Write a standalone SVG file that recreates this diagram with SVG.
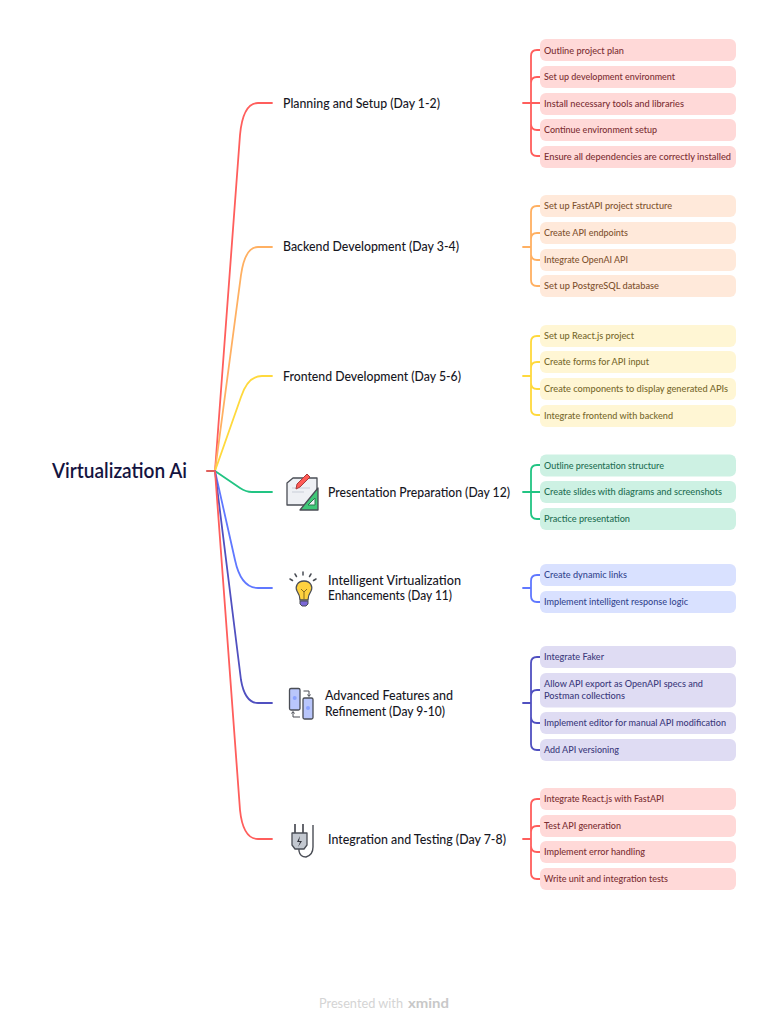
<svg xmlns="http://www.w3.org/2000/svg" width="768" height="1024" viewBox="0 0 768 1024">
<style>
text{font-family:"Lato","Liberation Sans",sans-serif}
.t{font-size:10px;font-weight:500}
.b{font-size:12.5px;fill:#17171f;font-weight:500}
.c{fill:none;stroke-width:1.8;stroke-linecap:round;stroke-linejoin:round}
.r{stroke:#ff5e5c}.o{stroke:#ffb062}.y{stroke:#ffd93d}.g{stroke:#22c483}.bl{stroke:#6078ff}.p{stroke:#5050c0}
.rb{fill:#ffd9d8}.ob{fill:#ffe9da}.yb{fill:#fff6d4}.gb{fill:#cdf1e3}.blb{fill:#d9e1ff}.pb{fill:#dfdcf3}
.rt{fill:#7c2f33}.ot{fill:#80522f}.yt{fill:#78692c}.gt{fill:#1f6f53}.blt{fill:#34468f}.pt{fill:#3c3a7c}
.i{stroke:#4a4d55;stroke-width:1.3;stroke-linejoin:round;stroke-linecap:round}
</style>
<g id="connectors">
<path class="c" style="stroke:#e0605c;stroke-width:2.200" d="M207 471H215"/>
<path class="c r" d="M215 471L240 135Q243 103 258 103H272"/>
<path class="c o" d="M215 471L241 275Q245 247 258 247H272"/>
<path class="c y" d="M215 471L241 397Q248 376 262 376H272"/>
<path class="c g" d="M215 471L240 488Q246 492 252 492H272"/>
<path class="c bl" d="M215 471L235 560Q241 588 258 588H272"/>
<path class="c p" d="M215 471L241 680Q245 703 258 703H272"/>
<path class="c r" d="M215 471L240 810Q243 839 258 839H272"/>
<path class="c r" d="M523 103H540M540 50H537Q531 50 531 56V150Q531 156 537 156H540M540 77H537Q531 77 531 83M540 130H537Q531 130 531 124"/>
<path class="c o" d="M523 247H531M540 206H537Q531 206 531 212V280Q531 286 537 286H540M540 233H537Q531 233 531 239M540 260H537Q531 260 531 254"/>
<path class="c y" d="M523 376H531M540 336H537Q531 336 531 342V409Q531 415 537 415H540M540 362H537Q531 362 531 368M540 389H537Q531 389 531 383"/>
<path class="c g" d="M523 492H540M540 465H537Q531 465 531 471V513Q531 519 537 519H540"/>
<path class="c bl" d="M523 588H531M540 575H537Q531 575 531 581V596Q531 602 537 602H540"/>
<path class="c p" d="M523 703H531M540 657H537Q531 657 531 663V744Q531 750 537 750H540M540 690H537Q531 690 531 696M540 723H537Q531 723 531 717"/>
<path class="c r" d="M523 839H531M540 799H537Q531 799 531 805V873Q531 879 537 879H540M540 826H537Q531 826 531 832M540 852H537Q531 852 531 846"/>
</g>
<g id="root"><text x="52" y="478" font-size="20.500" font-weight="600" fill="#14143f" textLength="135" lengthAdjust="spacingAndGlyphs">Virtualization Ai</text></g>

<g id="planning"><text class="b" x="283" y="108" textLength="157" lengthAdjust="spacingAndGlyphs">Planning and Setup (Day 1-2)</text></g>
<g id="backend"><text class="b" x="283" y="251" textLength="176" lengthAdjust="spacingAndGlyphs">Backend Development (Day 3-4)</text></g>
<g id="frontend"><text class="b" x="283" y="381" textLength="178" lengthAdjust="spacingAndGlyphs">Frontend Development (Day 5-6)</text></g>
<g id="presentation">
<path d="M287 483L293 478H317V505H287Z" fill="#eef0f4" class="i"/>
<path d="M292 488H310M292 492H304" stroke="#c9ced8" stroke-width="1" fill="none"/>
<path d="M318 488V510H300Z" fill="#3fc878" class="i"/>
<path d="M315 498V505H308Z" fill="#eef0f4" stroke="#2c7a50" stroke-width="1"/>
<path d="M297 484L307 474L310 477L300 487L296 489Z" fill="#ff5a55" stroke="#a83a3a" stroke-width="1"/>
<text class="b" x="328" y="497" textLength="182" lengthAdjust="spacingAndGlyphs">Presentation Preparation (Day 12)</text>
</g>
<g id="enhancements">
<path d="M304 581C297 581 295 587 297 591C299 594 300 597 300 600H308C308 597 309 594 311 591C313 587 311 581 304 581Z" fill="#ffd23f" stroke="#4a4d55" stroke-width="1.300"/>
<path d="M304 599V592M301 589L304 592L307 589" stroke="#8a6d1e" stroke-width="1" fill="none"/>
<path d="M300 601H308V604L306 606H302L300 604Z" fill="#7b68d6" stroke="#4a4d55" stroke-width="1"/>
<path d="M303 572V575M295 574L296.500 576.500M311 574L309.500 576.500M290 579L292.500 580.500M316 579L313.500 580.500" stroke="#4a4d55" stroke-width="1.500" stroke-linecap="round" fill="none"/>
<text class="b" x="328" y="585" textLength="133" lengthAdjust="spacingAndGlyphs">Intelligent Virtualization</text>
<text class="b" x="328" y="600" textLength="124" lengthAdjust="spacingAndGlyphs">Enhancements (Day 11)</text>
</g>
<g id="advanced">
<rect x="289.500" y="688.500" width="10.500" height="21.500" rx="1.500" fill="#b9c6fb" class="i"/>
<circle cx="294.700" cy="698" r="2" fill="#8ba2ff"/>
<rect x="303" y="698" width="10" height="21" rx="1.500" fill="#b9c6fb" class="i"/>
<circle cx="308" cy="708" r="2" fill="#8ba2ff"/>
<path d="M303.500 691H309V696M307.500 694.500L309 696.500L310.500 694.500M293 712V717H300M291.500 713.500L293 711.500L294.500 713.500" fill="none" stroke="#4a4d55" stroke-width="1"/>
<text class="b" x="325" y="700" textLength="128" lengthAdjust="spacingAndGlyphs">Advanced Features and</text>
<text class="b" x="325" y="716" textLength="120" lengthAdjust="spacingAndGlyphs">Refinement (Day 9-10)</text>
</g>
<g id="integration">
<path d="M295 824V833M303 824V833" stroke="#4a4d55" stroke-width="1.700" fill="none"/>
<path d="M292 833H307V845L304 849H295L292 845Z" fill="#c3c8d0" class="i"/>
<path d="M300 836L297 842H300L298 847L302 841H299Z" fill="#30323a"/>
<path d="M299 849V851Q300 857 306 857Q313 855 313 847V825" fill="none" stroke="#4a4d55" stroke-width="1.400"/>
<text class="b" x="328" y="844" textLength="178" lengthAdjust="spacingAndGlyphs">Integration and Testing (Day 7-8)</text>
</g>

<g id="n1a"><rect class="rb" x="540" y="39" width="196" height="22" rx="6"/><text class="t rt" x="544" y="53.500" textLength="80" lengthAdjust="spacingAndGlyphs">Outline project plan</text></g>
<g id="n1b"><rect class="rb" x="540" y="66" width="196" height="22" rx="6"/><text class="t rt" x="544" y="80" textLength="131" lengthAdjust="spacingAndGlyphs">Set up development environment</text></g>
<g id="n1c"><rect class="rb" x="540" y="93" width="196" height="22" rx="6"/><text class="t rt" x="544" y="107" textLength="140" lengthAdjust="spacingAndGlyphs">Install necessary tools and libraries</text></g>
<g id="n1d"><rect class="rb" x="540" y="119" width="196" height="22" rx="6"/><text class="t rt" x="544" y="133" textLength="113" lengthAdjust="spacingAndGlyphs">Continue environment setup</text></g>
<g id="n1e"><rect class="rb" x="540" y="146" width="196" height="22" rx="6"/><text class="t rt" x="544" y="160" textLength="187" lengthAdjust="spacingAndGlyphs">Ensure all dependencies are correctly installed</text></g>

<g id="n2a"><rect class="ob" x="540" y="195" width="196" height="22" rx="6"/><text class="t ot" x="544" y="209" textLength="128" lengthAdjust="spacingAndGlyphs">Set up FastAPI project structure</text></g>
<g id="n2b"><rect class="ob" x="540" y="222" width="196" height="22" rx="6"/><text class="t ot" x="544" y="236" textLength="84" lengthAdjust="spacingAndGlyphs">Create API endpoints</text></g>
<g id="n2c"><rect class="ob" x="540" y="249" width="196" height="22" rx="6"/><text class="t ot" x="544" y="263" textLength="84" lengthAdjust="spacingAndGlyphs">Integrate OpenAI API</text></g>
<g id="n2d"><rect class="ob" x="540" y="275" width="196" height="22" rx="6"/><text class="t ot" x="544" y="289" textLength="115" lengthAdjust="spacingAndGlyphs">Set up PostgreSQL database</text></g>

<g id="n3a"><rect class="yb" x="540" y="325" width="196" height="22" rx="6"/><text class="t yt" x="544" y="339" textLength="90" lengthAdjust="spacingAndGlyphs">Set up React.js project</text></g>
<g id="n3b"><rect class="yb" x="540" y="351" width="196" height="22" rx="6"/><text class="t yt" x="544" y="365" textLength="105" lengthAdjust="spacingAndGlyphs">Create forms for API input</text></g>
<g id="n3c"><rect class="yb" x="540" y="378" width="196" height="22" rx="6"/><text class="t yt" x="544" y="392" textLength="184" lengthAdjust="spacingAndGlyphs">Create components to display generated APIs</text></g>
<g id="n3d"><rect class="yb" x="540" y="405" width="196" height="22" rx="6"/><text class="t yt" x="544" y="419" textLength="129" lengthAdjust="spacingAndGlyphs">Integrate frontend with backend</text></g>

<g id="n4a"><rect class="gb" x="540" y="454.500" width="196" height="22" rx="6"/><text class="t gt" x="544" y="468.500" textLength="120" lengthAdjust="spacingAndGlyphs">Outline presentation structure</text></g>
<g id="n4b"><rect class="gb" x="540" y="481" width="196" height="22" rx="6"/><text class="t gt" x="544" y="495" textLength="178" lengthAdjust="spacingAndGlyphs">Create slides with diagrams and screenshots</text></g>
<g id="n4c"><rect class="gb" x="540" y="508" width="196" height="22" rx="6"/><text class="t gt" x="544" y="522" textLength="86" lengthAdjust="spacingAndGlyphs">Practice presentation</text></g>

<g id="n5a"><rect class="blb" x="540" y="564" width="196" height="22" rx="6"/><text class="t blt" x="544" y="578" textLength="83" lengthAdjust="spacingAndGlyphs">Create dynamic links</text></g>
<g id="n5b"><rect class="blb" x="540" y="591" width="196" height="22" rx="6"/><text class="t blt" x="544" y="605" textLength="144" lengthAdjust="spacingAndGlyphs">Implement intelligent response logic</text></g>

<g id="n6a"><rect class="pb" x="540" y="646" width="196" height="22" rx="6"/><text class="t pt" x="544" y="660" textLength="60" lengthAdjust="spacingAndGlyphs">Integrate Faker</text></g>
<g id="n6b"><rect class="pb" x="540" y="673" width="196" height="34.500" rx="6"/><text class="t pt" x="544" y="687" textLength="159" lengthAdjust="spacingAndGlyphs">Allow API export as OpenAPI specs and</text><text class="t pt" x="544" y="699" textLength="81" lengthAdjust="spacingAndGlyphs">Postman collections</text></g>
<g id="n6c"><rect class="pb" x="540" y="712" width="196" height="22" rx="6"/><text class="t pt" x="544" y="726" textLength="182" lengthAdjust="spacingAndGlyphs">Implement editor for manual API modification</text></g>
<g id="n6d"><rect class="pb" x="540" y="739" width="196" height="22" rx="6"/><text class="t pt" x="544" y="753" textLength="75" lengthAdjust="spacingAndGlyphs">Add API versioning</text></g>

<g id="n7a"><rect class="rb" x="540" y="788" width="196" height="22" rx="6"/><text class="t rt" x="544" y="802" textLength="120" lengthAdjust="spacingAndGlyphs">Integrate React.js with FastAPI</text></g>
<g id="n7b"><rect class="rb" x="540" y="815" width="196" height="22" rx="6"/><text class="t rt" x="544" y="829" textLength="77" lengthAdjust="spacingAndGlyphs">Test API generation</text></g>
<g id="n7c"><rect class="rb" x="540" y="841" width="196" height="22" rx="6"/><text class="t rt" x="544" y="855" textLength="101" lengthAdjust="spacingAndGlyphs">Implement error handling</text></g>
<g id="n7d"><rect class="rb" x="540" y="868" width="196" height="22" rx="6"/><text class="t rt" x="544" y="882" textLength="124" lengthAdjust="spacingAndGlyphs">Write unit and integration tests</text></g>

<g id="footer"><text x="319" y="1008" font-size="14" fill="#d4d4d4" textLength="84" lengthAdjust="spacingAndGlyphs">Presented with</text><text x="408" y="1008" font-size="14" font-weight="700" fill="#c8c8c8" textLength="41" lengthAdjust="spacingAndGlyphs">xmind</text></g>
</svg>
